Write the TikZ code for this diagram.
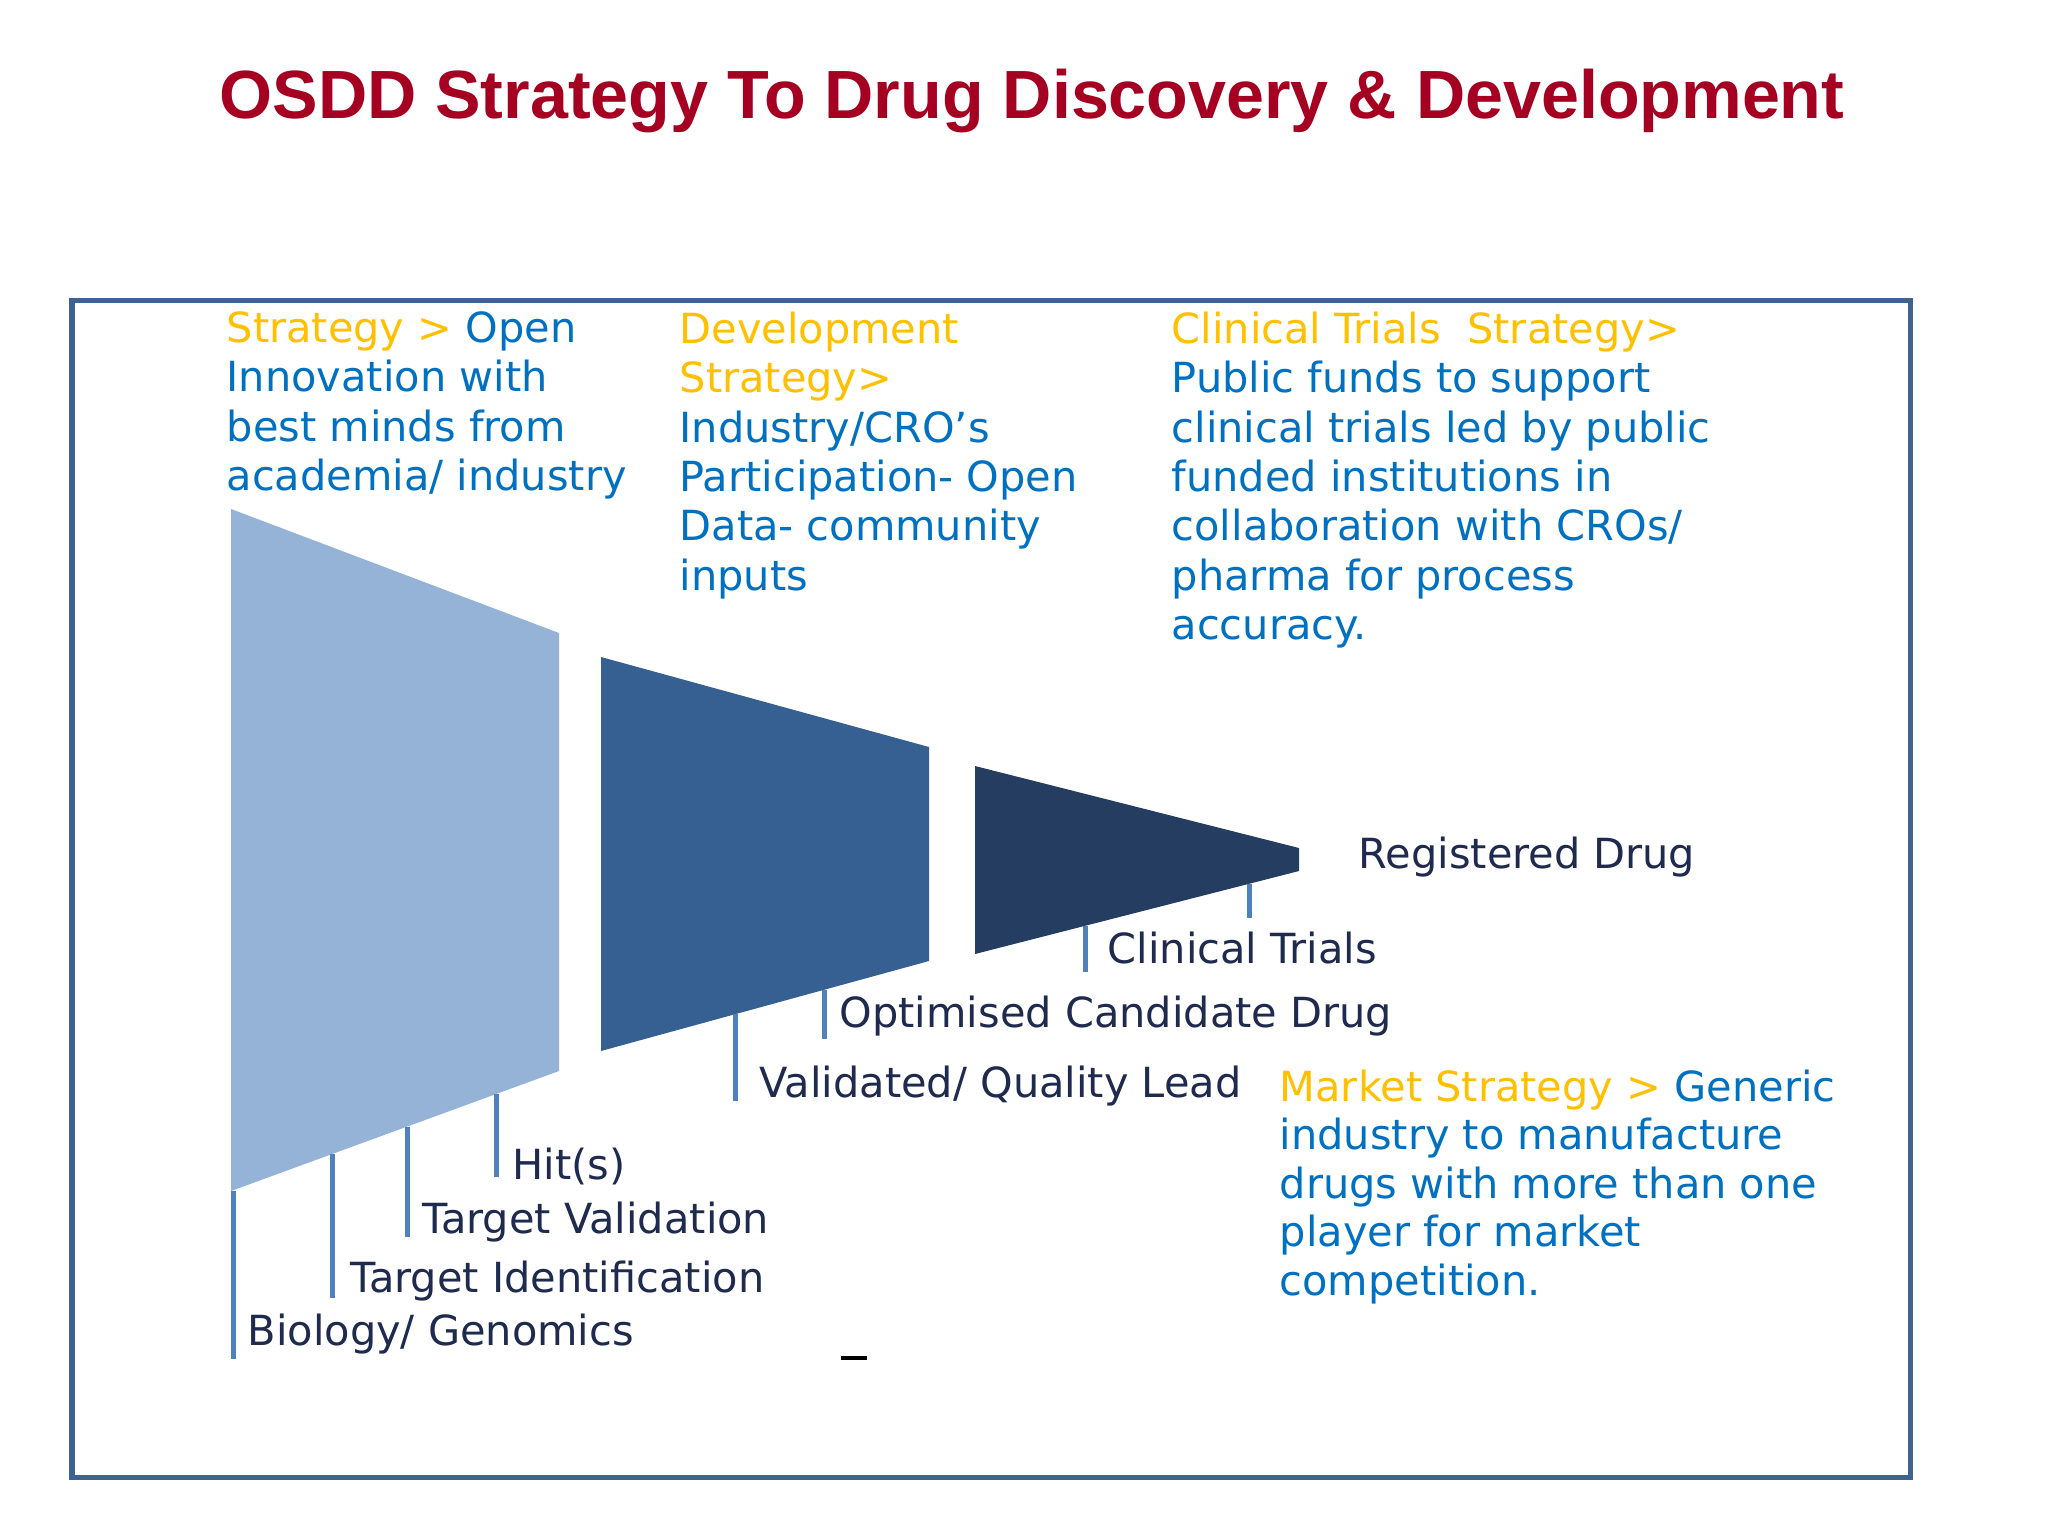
\documentclass[tikz,border=0pt]{standalone}
\usepackage{fontspec}
\setmainfont{DejaVu Sans}
\newfontfamily\titlefont{Liberation Sans}
\usetikzlibrary{calc}

\definecolor{osddred}{RGB}{165,0,33}
\definecolor{framebl}{RGB}{62,98,145}
\definecolor{lightfun}{RGB}{149,179,215}
\definecolor{midfun}{RGB}{55,96,146}
\definecolor{darkfun}{RGB}{37,61,97}
\definecolor{stemblue}{RGB}{79,129,189}
\definecolor{navytext}{RGB}{30,42,78}
\definecolor{bodyblue}{RGB}{0,112,192}
\definecolor{gold}{RGB}{255,192,0}

\tikzset{
  strategy/.style={anchor=north west, align=left, inner sep=0pt, text=bodyblue, font=\fontsize{11.8}{14.05}\selectfont},
  stage/.style={anchor=base west, inner sep=0pt, text=navytext, font=\fontsize{11.8}{14}\selectfont},
  stem/.style={draw=stemblue, line width=0.05cm},
}

\begin{document}
\begin{tikzpicture}[x=0.01cm,y=-0.01cm]
    \useasboundingbox[fill=white] (0,0) rectangle (2048,1536);
    \node[anchor=base, text=osddred, font=\titlefont\bfseries\fontsize{19.4}{23}\selectfont] (title) at (1032,118) {OSDD Strategy To Drug Discovery \& Development};
    \draw[framebl, line width=0.05cm] (72,300) rectangle (1910,1477);

    % funnel stages
    \coordinate (a1) at (231,509);  \coordinate (a2) at (559,633);
    \coordinate (a3) at (559,1071); \coordinate (a4) at (231,1191);
    \coordinate (b1) at (601,657);  \coordinate (b2) at (929,747);
    \coordinate (b3) at (929,961);  \coordinate (b4) at (601,1051);
    \coordinate (c1) at (975,766);  \coordinate (c2) at (1299,848);
    \coordinate (c3) at (1299,871); \coordinate (c4) at (975,954);
    \fill[lightfun] (a1) -- (a2) -- (a3) -- (a4) -- cycle;
    \fill[midfun] (b1) -- (b2) -- (b3) -- (b4) -- cycle;
    \fill[darkfun] (c1) -- (c2) -- (c3) -- (c4) -- cycle;

    % strategy texts
    \node[strategy] (openinno) at (226,311) {{\color{gold}Strategy >} Open\\Innovation with\\best minds from\\academia/ industry};
    \node[strategy] (devstrat) at (679,311) {{\color{gold}Development}\\{\color{gold}Strategy>}\\Industry/CRO’s\\Participation- Open\\Data- community\\inputs};
    \node[strategy] (clinstrat) at (1171,311) {{\color{gold}Clinical Trials\ \ Strategy>}\\Public funds to support\\clinical trials led by public\\funded institutions in\\collaboration with CROs/\\pharma for process\\accuracy.};
    \node[strategy, font=\fontsize{11.8}{13.8}\selectfont] (mktstrat) at (1279,1069) {{\color{gold}Market Strategy >} Generic\\industry to manufacture\\drugs with more than one\\player for market\\competition.};

    % stage labels
    \node[stage] (biology) at (247,1345) {Biology/ Genomics};
    \node[stage] (targetid) at (350,1292) {Target Identification};
    \node[stage] (targetval) at (422,1233) {Target Validation};
    \node[stage] (hits) at (512,1179) {Hit(s)};
    \node[stage] (vallead) at (759,1097) {Validated/ Quality Lead};
    \node[stage] (optcand) at (839,1027) {Optimised Candidate Drug};
    \node[stage] (clintrial) at (1107,963) {Clinical Trials};
    \node[stage] (regdrug) at (1358,868) {Registered Drug};

    % stems from funnel edges
    \draw[stem] ($(a4)+(2,0)$) -- ++(0,168);
    \draw[stem] ($(a4)!0.308!(a3)$) -- ++(0,144);
    \draw[stem] ($(a4)!0.537!(a3)$) -- ++(0,110);
    \draw[stem] ($(a4)!0.808!(a3)$) -- ++(0,83);
    \draw[stem] ($(b4)!0.409!(b3)$) -- ++(0,87);
    \draw[stem] ($(b4)!0.680!(b3)$) -- ++(0,49);
    \draw[stem] ($(c4)!0.341!(c3)$) -- ++(0,46);
    \draw[stem] ($(c4)!0.848!(c3)$) -- ++(0,34);

    \draw[black, line width=0.035cm] (841,1358) -- (867,1358);
\end{tikzpicture}
\end{document}
